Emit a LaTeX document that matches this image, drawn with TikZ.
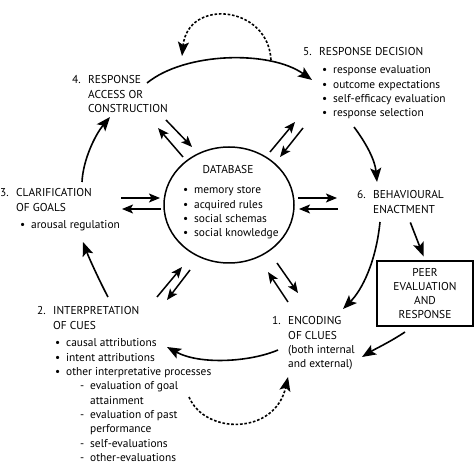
\documentclass[tikz,border=0pt]{standalone}
\usepackage{fontspec}
\setmainfont{PT Sans}
\usetikzlibrary{positioning, shapes.geometric, arrows.meta}

\newcommand{\bul}{\makebox[11pt][l]{\textbullet}}
\newcommand{\dsh}{\hspace*{25pt}\makebox[10pt][l]{-}}
\newcommand{\dshcont}{\hspace*{35pt}}
\newcommand{\rows}[1]{\begin{tabular}[t]{@{}l@{}}#1\end{tabular}}

\begin{document}
\begin{tikzpicture}[
  x=1pt, y=-1pt,
  every node/.style={font=\fontsize{11.4}{14.3}\selectfont},
  heading/.style={anchor=base west, inner sep=0pt},
  stepnum/.style={inner sep=0pt},
  itemlist/.style={anchor=base west, inner sep=0pt},
  database/.style={ellipse, draw, line width=1.5pt, minimum width=130pt, minimum height=116pt},
  peerbox/.style={rectangle, draw, line width=1.8pt, align=center, minimum width=96pt, minimum height=65pt, inner sep=0pt},
  flow/.style={line width=1.6pt, -{Stealth[length=14pt,width=11pt,inset=3pt]}},
  feedback/.style={flow, dash pattern=on 2.6pt off 1.8pt},
  swap/.style={line width=1.5pt, -{Stealth[length=11pt,width=9pt,inset=2.5pt]}},
]
\useasboundingbox (0,0) rectangle (474,462);

%%% Nodes
\node[database] (db) at (229,205) {};
\node[inner sep=0pt, anchor=base] (dbtitle) at (228,174) {DATABASE};
\node[itemlist] (dblist) at (183,194) {\rows{\bul memory store\\\bul acquired rules\\\bul social schemas\\\bul social knowledge}};

\node[heading] (n5) at (319,56) {RESPONSE DECISION};
\node[stepnum] (n5num) [left=7pt of n5.base west, anchor=base east] {5.};
\node[itemlist] (list5) at (322,74) {\rows{\bul response evaluation\\\bul outcome expectations\\\bul self-efficacy evaluation\\\bul response selection}};

\node[heading] (n4) at (88,84) {\rows{RESPONSE\\ACCESS OR\\CONSTRUCTION}};
\node[stepnum] (n4num) [left=7pt of n4.base west, anchor=base east] {4.};

\node[heading] (n3) at (16,197) {\rows{CLARIFICATION\\OF GOALS}};
\node[stepnum] (n3num) [left=7pt of n3.base west, anchor=base east] {3.};
\node[itemlist] (list3) at (20,229) {\bul arousal regulation};

\node[heading] (n6) at (373,199) {\rows{BEHAVIOURAL\\ENACTMENT}};
\node[stepnum] (n6num) [left=7pt of n6.base west, anchor=base east] {6.};

\node[heading] (n2) at (53,315) {\rows{INTERPRETATION\\OF CUES}};
\node[stepnum] (n2num) [left=7pt of n2.base west, anchor=base east] {2.};
\node[itemlist] (list2) at (55,347) {\rows{\bul causal attributions\\\bul intent attributions\\\bul other interpretative processes\\
  \dsh evaluation of goal\\\dshcont attainment\\\dsh evaluation of past\\\dshcont performance\\\dsh self-evaluations\\\dsh other-evaluations}};

\node[heading] (n1) at (288,325) {\rows{ENCODING\\OF CLUES\\(both internal\\and external)}};
\node[stepnum] (n1num) [left=7pt of n1.base west, anchor=base east] {1.};

\node[peerbox] (peer) at (425,293.5) {PEER\\EVALUATION\\AND\\RESPONSE};

%%% Connector ends
\coordinate (c4out) at (147,83);
\coordinate (c5in) at (312,80);
\coordinate (c5back) at (271,60);
\coordinate (c4back) at (182,56);
\coordinate (c5out) at (354,127);
\coordinate (c6in) at (377,182);
\coordinate (c6out) at (380,222);
\coordinate (c1in) at (343,309);
\coordinate (c1peer) at (362,357);
\coordinate (cpeer) at (405,332);
\coordinate (c1out) at (278,350);
\coordinate (c2in) at (167,347);
\coordinate (c2back) at (189,397);
\coordinate (c1back) at (288,377);
\coordinate (c2out) at (108,297);
\coordinate (c3in) at (83,242);
\coordinate (c3out) at (82,182);
\coordinate (c4in) at (110,117);

%%% Cycle
\draw[flow] (c4out) .. controls (185,52) and (270,50) .. (c5in);
\draw[feedback] (c5back) .. controls (268,5) and (188,-2) .. (c4back);
\draw[flow] (c5out) .. controls (366,143) and (375,160) .. (c6in);
\draw[flow] (c6out) .. controls (376,262) and (362,290) .. (c1in);
\draw[flow, shorten <=5pt, shorten >=4pt] (n6.south) -- (peer.north);
\draw[flow] (cpeer) .. controls (390,342) and (375,349) .. (c1peer);
\draw[flow] (c1out) .. controls (250,362) and (200,365) .. (c2in);
\draw[feedback] (c2back) .. controls (205,435) and (275,435) .. (c1back);
\draw[flow] (c2out) .. controls (100,282) and (89,258) .. (c3in);
\draw[flow] (c3out) .. controls (83,160) and (95,135) .. (c4in);

%%% Database links
\foreach \nm/\sx/\sy/\ex/\ey in {
  ula/166/120/192/147, ulb/183/157/158/128,
  ura/270/152/295/122, urb/303/128/280/157,
  la/121/198/160/198, lb/161/209/122/209,
  ra/298/198/337/198, rb/338/209/299/209,
  lla/157/297/182/267, llb/190/270/167/300,
  lra/288/302/268/272, lrb/277/263/298/293}
{
  \coordinate (\nm-s) at (\sx,\sy);
  \coordinate (\nm-e) at (\ex,\ey);
  \draw[swap] (\nm-s) -- (\nm-e);
}

\end{tikzpicture}
\end{document}
